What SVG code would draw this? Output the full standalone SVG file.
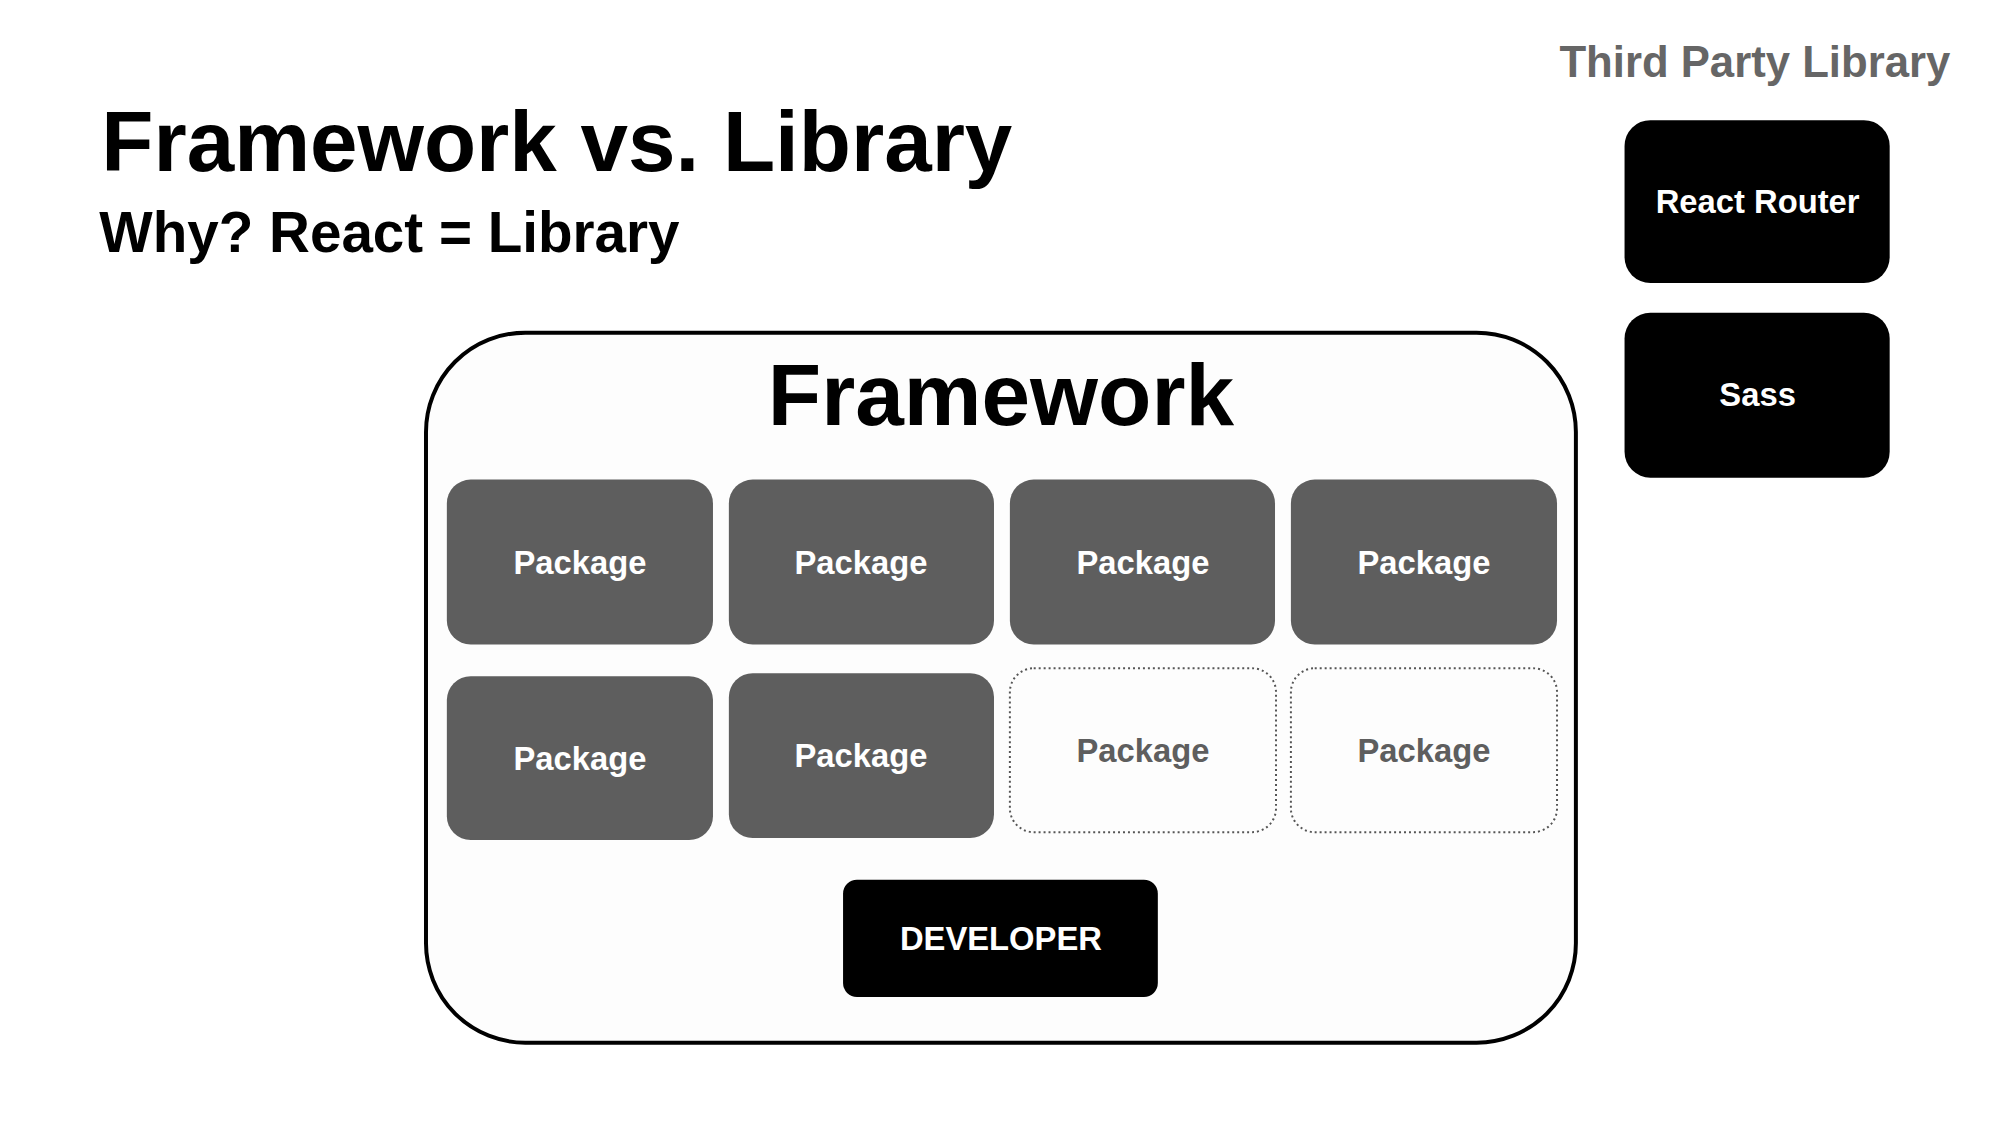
<svg xmlns="http://www.w3.org/2000/svg" width="2000" height="1125" viewBox="0 0 2000 1125">
<style>
text{font-family:"Liberation Sans",Arial,sans-serif;font-weight:bold}
.pk{fill:#5e5e5e}
.pt{fill:#fff;font-size:33px;text-anchor:middle}
.dk{fill:#000}
.dash{fill:#fdfdfd;stroke:#555;stroke-width:2;stroke-dasharray:2 3}
.dt{fill:#5e5e5e;font-size:33px;text-anchor:middle}
</style>
<rect width="2000" height="1125" fill="#fff"/>
<g transform="scale(0.993)">
<text x="102" y="172" font-size="86">Framework vs. Library</text>
<text x="100" y="254" font-size="57">Why? React = Library</text>
<text x="1964" y="78" font-size="44" fill="#666" text-anchor="end">Third Party Library</text>
<g id="react-router"><rect x="1636" y="121" width="267" height="164" rx="26" class="dk"/><text x="1770" y="215" class="pt" font-size="31">React Router</text></g>
<g id="sass"><rect x="1636" y="315" width="267" height="166" rx="26" class="dk"/><text x="1770" y="409" class="pt" font-size="31">Sass</text></g>
<g id="framework"><rect x="429" y="335" width="1158" height="715" rx="100" fill="#fdfdfd" stroke="#000" stroke-width="4"/>
<text x="1008" y="428" font-size="88" text-anchor="middle">Framework</text></g>
<g id="p1"><rect x="450" y="483" width="268" height="166" rx="24" class="pk"/><text x="584" y="578" class="pt">Package</text></g>
<g id="p2"><rect x="734" y="483" width="267" height="166" rx="24" class="pk"/><text x="867" y="578" class="pt">Package</text></g>
<g id="p3"><rect x="1017" y="483" width="267" height="166" rx="24" class="pk"/><text x="1151" y="578" class="pt">Package</text></g>
<g id="p4"><rect x="1300" y="483" width="268" height="166" rx="24" class="pk"/><text x="1434" y="578" class="pt">Package</text></g>
<g id="p5"><rect x="450" y="681" width="268" height="165" rx="24" class="pk"/><text x="584" y="775" class="pt">Package</text></g>
<g id="p6"><rect x="734" y="678" width="267" height="166" rx="24" class="pk"/><text x="867" y="772" class="pt">Package</text></g>
<g id="p7"><rect x="1017" y="673" width="268" height="165" rx="24" class="dash"/><text x="1151" y="767" class="dt">Package</text></g>
<g id="p8"><rect x="1300" y="673" width="268" height="165" rx="24" class="dash"/><text x="1434" y="767" class="dt">Package</text></g>
<g id="developer"><rect x="849" y="886" width="317" height="118" rx="14" class="dk"/><text x="1008" y="957" class="pt">DEVELOPER</text></g>
<g id="connectors"/>
</g>
</svg>
